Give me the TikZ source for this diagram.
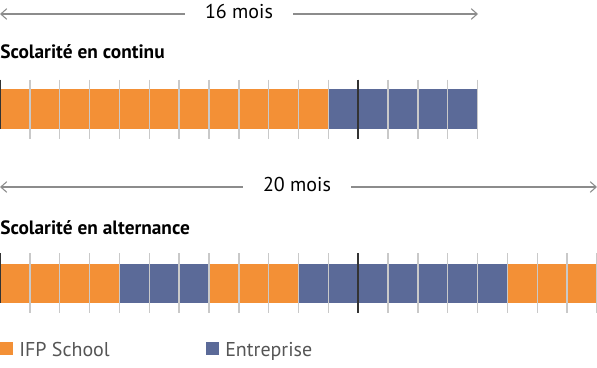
\documentclass[tikz,border=0pt]{standalone}
\usepackage{fontspec}
\setmainfont{PT Sans}
\usetikzlibrary{arrows.meta,positioning}
\definecolor{ifporange}{HTML}{F39036}
\definecolor{ifpblue}{HTML}{5B6A98}
\definecolor{tickgrey}{HTML}{C9C9C9}
\definecolor{spangrey}{HTML}{8C8C8C}
\definecolor{legendgrey}{HTML}{555555}

\begin{document}
\begin{tikzpicture}[x=0.75pt,y=-0.75pt,font=\fontsize{15}{18}\selectfont,
  tick/.style={tickgrey,line width=1.1pt},
  split/.style={black!80,line width=1.1pt},
  span/.style={spangrey,line width=0.8pt,-{Straight Barb[length=4.5pt,width=8pt]}},
  dur/.style={inner xsep=15pt,inner ysep=0pt,text height=0.7em,text depth=0pt},
  title/.style={anchor=base west,inner sep=0pt,font=\fontsize{14.5}{17}\selectfont\bfseries},
  legtext/.style={anchor=base west,inner sep=0pt,text=legendgrey},
  legbox/.style={minimum size=9.75pt,inner sep=0pt,anchor=north west}]
  \def\cw{29.85}
  \useasboundingbox (0,0) rectangle (597,368);

  % durée 16 mois
  \node[dur] (d16) at (239,14) {16 mois};
  \coordinate (d16l) at (0,14);
  \coordinate (d16r) at (478,14);
  \draw[span] (d16) -- (d16l);
  \draw[span] (d16) -- (d16r);
  \node[title] (t1) at (0,58) {Scolarité en continu};

  % barre en continu
  \foreach \c [count=\i from 0] in {ifporange,ifporange,ifporange,ifporange,ifporange,ifporange,ifporange,ifporange,ifporange,ifporange,ifporange,ifpblue,ifpblue,ifpblue,ifpblue,ifpblue}
    \fill[\c] (\i*\cw,89) rectangle ({(\i+1)*\cw},128.5);
  \foreach \i in {1,...,16} \draw[tick] (\i*\cw,79.5) -- (\i*\cw,139);
  \draw[split] (0,79.5) -- (0,128.5);
  \draw[split] (12*\cw,79.5) -- (12*\cw,139);

  % durée 20 mois
  \node[dur] (d20) at (297,187) {20 mois};
  \coordinate (d20l) at (0,187);
  \coordinate (d20r) at (597,187);
  \draw[span] (d20) -- (d20l);
  \draw[span] (d20) -- (d20r);
  \node[title] (t2) at (0,234) {Scolarité en alternance};

  % barre en alternance
  \foreach \c [count=\i from 0] in {ifporange,ifporange,ifporange,ifporange,ifpblue,ifpblue,ifpblue,ifporange,ifporange,ifporange,ifpblue,ifpblue,ifpblue,ifpblue,ifpblue,ifpblue,ifpblue,ifporange,ifporange,ifporange}
    \fill[\c] (\i*\cw,263.5) rectangle ({(\i+1)*\cw},302.5);
  \foreach \i in {1,...,20} \draw[tick] (\i*\cw,253) -- (\i*\cw,313);
  \draw[split] (0,253) -- (0,302.5);
  \draw[split] (12*\cw,253) -- (12*\cw,313);

  % légende
  \node[legbox,fill=ifporange] (kSchool) at (0,342) {};
  \node[legtext] (lSchool) at (19,356) {IFP School};
  \node[legbox,fill=ifpblue] (kFirm) at (206,342) {};
  \node[legtext] (lFirm) at (225,356) {Entreprise};
\end{tikzpicture}
\end{document}
